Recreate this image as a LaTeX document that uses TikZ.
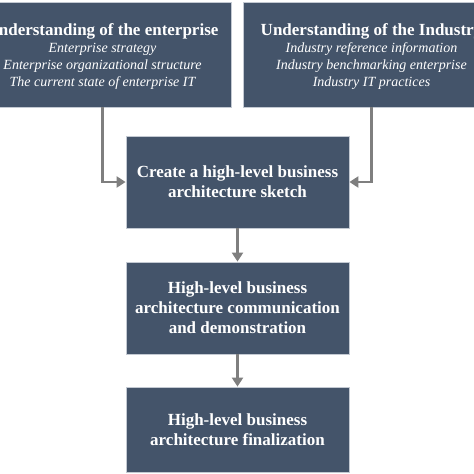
\documentclass[tikz,border=0pt]{standalone}
\usepackage{fontspec}
\setmainfont{Liberation Serif}
\usetikzlibrary{arrows.meta}
\definecolor{boxfill}{HTML}{44546A}
\definecolor{boxline}{HTML}{C3C9D2}
\definecolor{arrowgray}{HTML}{7F7F7F}
\begin{document}
\begin{tikzpicture}[x=1pt,y=-1pt,
  box/.style={fill=boxfill, draw=boxline, line width=0.8pt, text=white, align=center, inner sep=0pt},
  conn/.style={draw=arrowgray, line width=2.2pt, -{Triangle[length=9pt,width=11pt]}},
  ttl/.style={font=\fontsize{17}{20}\selectfont\bfseries},
  src/.style={font=\fontsize{14}{17}\selectfont\itshape}]
\useasboundingbox (0,0) rectangle (474,474);
\fill[white] (0,0) rectangle (474,474);
\node[box, src, minimum width=257pt, minimum height=105pt] (l) at (102.5,54.5)
  {{\fontsize{17}{18}\selectfont\bfseries\upshape\rule{0pt}{16pt}Understanding of the enterprise}\\
   Enterprise strategy\\
   Enterprise organizational structure\\
   The current state of enterprise IT};
\node[box, src, minimum width=257pt, minimum height=105pt] (r) at (371.5,54.5)
  {{\fontsize{17}{18}\selectfont\bfseries\upshape\rule{0pt}{16pt}Understanding of the Industry}\\
   Industry reference information\\
   Industry benchmarking enterprise\\
   Industry IT practices};
\node[box, ttl, minimum width=223pt, minimum height=92pt] (c) at (237.5,182)
  {Create a high-level business\\architecture sketch};
\node[box, ttl, minimum width=223pt, minimum height=92pt] (m) at (237.5,308)
  {High-level business\\architecture communication\\and demonstration};
\node[box, ttl, minimum width=223pt, minimum height=85pt] (f) at (237.5,429.5)
  {High-level business\\architecture finalization};
\draw[conn] (l.south) |- (c.west);
\draw[conn] (r.south) |- (c.east);
\draw[conn] (c.south) -- (m.north);
\draw[conn] (m.south) -- (f.north);
\end{tikzpicture}
\end{document}
